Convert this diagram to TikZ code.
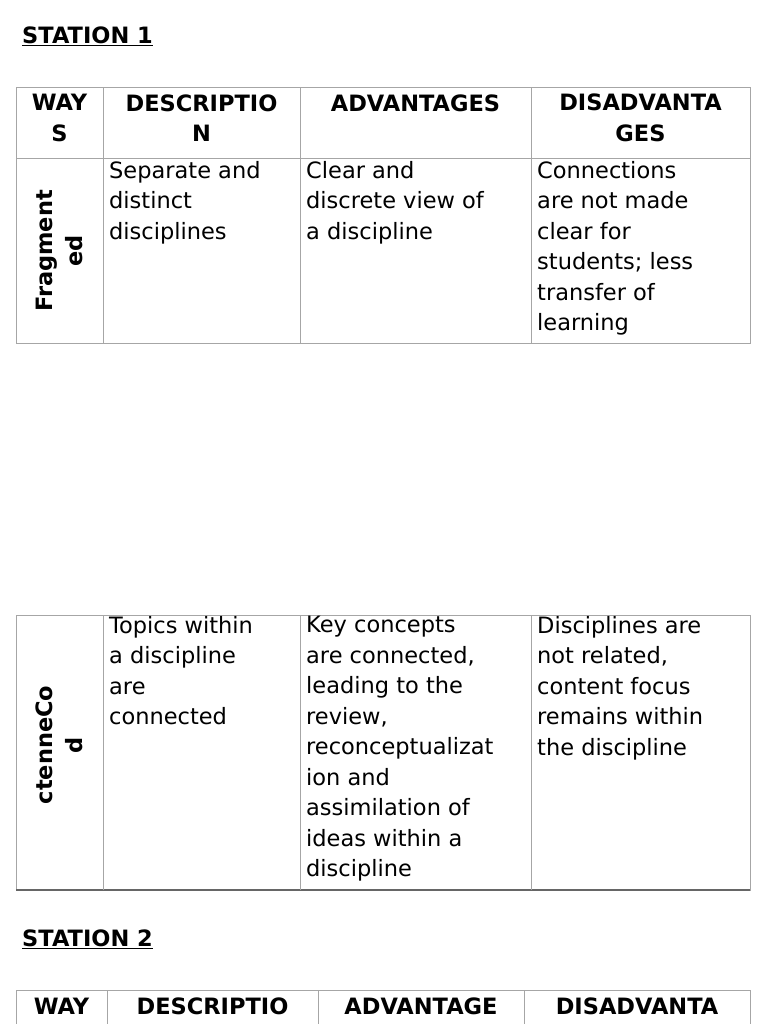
\documentclass[tikz,border=0pt]{standalone}
\usepackage{fontspec}
\setmainfont{DejaVu Sans}
\begin{document}
\begin{tikzpicture}[x=1pt,y=-1pt,
  grid/.style={draw=black!35,line width=1pt},
  body/.style={anchor=north west,inner sep=0pt,align=left,font=\fontsize{22.5}{30.5}\selectfont},
  head/.style={inner sep=0pt,align=center,font=\fontsize{22.5}{30.5}\selectfont\bfseries},
  side/.style={inner sep=0pt,align=center,rotate=90,font=\fontsize{22.5}{30.5}\selectfont\bfseries},
  title/.style={anchor=west,inner sep=0pt,font=\fontsize{22.5}{30.5}\selectfont\bfseries}]
\useasboundingbox (0,0) rectangle (768,1024);
\node[title] (s1) at (22,36) {\underline{STATION 1}};
\node[title] (s2) at (22,939) {\underline{STATION 2}};
% table 1
\draw[grid] (16,88) rectangle (750,343);
\draw[grid] (16,159) -- (750,159);
\foreach \x in {103,300,531} \draw[grid] (\x,88) -- (\x,343);
\node[head] (h1) at (59.5,118) {WAY\\S};
\node[head] (h2) at (201.5,118) {DESCRIPTIO\\N};
\node[head] (h3) at (415.5,103) {ADVANTAGES};
\node[head] (h4) at (640.5,118) {DISADVANTA\\GES};
\node[side] (r1) at (59.5,251) {Fragment\\ed};
\node[body] (c11) at (109,161) {Separate and\\distinct\\disciplines};
\node[body] (c12) at (306,161) {Clear and\\discrete view of\\a discipline};
\node[body] (c13) at (537,161) {Connections\\are not made\\clear for\\students; less\\transfer of\\learning};
% table 2
\draw[grid] (16,615) rectangle (750,890);
\draw[grid,line width=1.5pt,draw=black!60] (16,890) -- (750,890);
\foreach \x in {103,300,531} \draw[grid] (\x,615) -- (\x,890);
\node[side] (r2) at (59.5,745) {ctenneCo\\d};
\node[body] (c21) at (109,616) {Topics within\\a discipline\\are\\connected};
\node[body] (c22) at (306,616) {Key concepts\\are connected,\\leading to the\\review,\\reconceptualizat\\ion and\\assimilation of\\ideas within a\\discipline};
\node[body] (c23) at (537,616) {Disciplines are\\not related,\\content focus\\remains within\\the discipline};
% table 3
\draw[grid] (16,1030) -- (16,990) -- (750,990) -- (750,1030);
\foreach \x in {107,318,524} \draw[grid] (\x,990) -- (\x,1030);
\node[head] (t1) at (61.5,1006) {WAY};
\node[head] (t2) at (212.5,1006) {DESCRIPTIO};
\node[head] (t3) at (421,1006) {ADVANTAGE};
\node[head] (t4) at (637,1006) {DISADVANTA};
\end{tikzpicture}
\end{document}
